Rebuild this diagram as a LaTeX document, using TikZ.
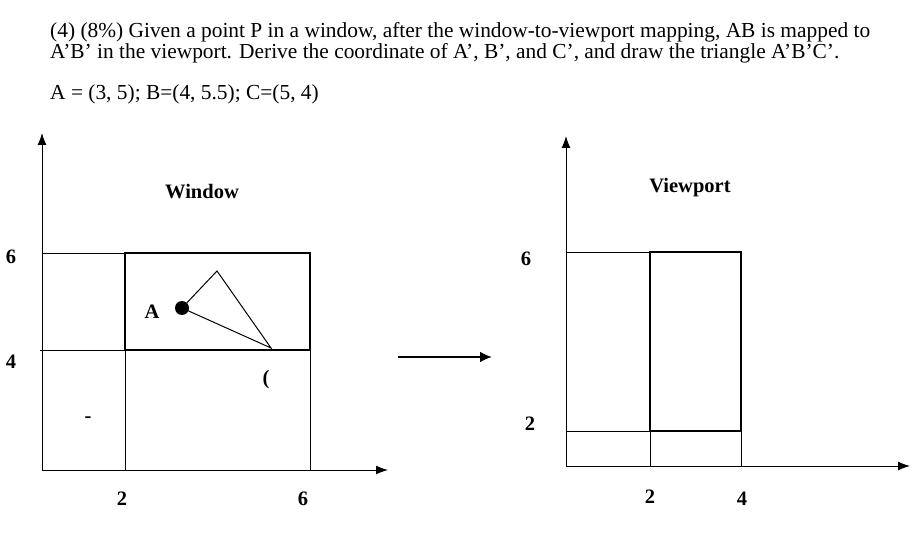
\documentclass[tikz,border=0pt]{standalone}
\usepackage{fontspec}
\setmainfont{Liberation Serif}
\usetikzlibrary{arrows.meta}
\begin{document}
\begin{tikzpicture}[x=1pt,y=-1pt,
  thin line/.style={line width=0.9pt},
  thick line/.style={line width=2.4pt},
  ax/.style={line width=1pt,-{Latex[length=12pt,width=9pt]}},
  lbl/.style={font=\fontsize{20.5}{24}\selectfont\bfseries,inner sep=0pt},
  txt/.style={font=\fontsize{21.4}{25}\selectfont,inner sep=0pt,anchor=west}]
\useasboundingbox (0,0) rectangle (915,534);
\node[txt] (t1) at (50,32) {(4) (8\%) Given a point P in a window, after the window-to-viewport mapping, AB is mapped to};
\node[txt] (t2) at (50,53) {A’B’ in the viewport. Derive the coordinate of A’, B’, and C’, and draw the triangle A’B’C’.};
\node[txt] (t3) at (50,94) {A = (3, 5); B=(4, 5.5); C=(5, 4)};
% left
\coordinate (lo) at (42,470);
\coordinate (ly) at (42,133);
\coordinate (lx) at (388,470);
\draw[ax] (lo) -- (ly);
\draw[ax] (lo) -- (lx);
\draw[thin line] (42,253) -- (125,253);
\draw[thin line] (40,350) -- (125,350);
\draw[thin line] (125,470) -- (125,253);
\draw[thin line] (310,350) -- (310,470);
\draw[thick line] (125,253) rectangle (310,350);
\coordinate (pa) at (182,308);
\coordinate (pb) at (217,271);
\coordinate (pc) at (271,348);
\draw[line width=1pt] (pa) -- (pb) -- (pc) -- cycle;
\fill (pa) circle (7);
\node[lbl] (la) at (152,312) {A};
\node[lbl] (lc) at (266,380) {(};
\node[lbl] (ld) at (88,420) {-};
\node[lbl] (l6) at (11,257) {6};
\node[lbl] (l4) at (11,362) {4};
\node[lbl] (l2) at (122,499) {2};
\node[lbl] (l6b) at (303,499) {6};
\node[lbl] (win) at (202,192) {Window};
% arrow
\coordinate (m1) at (398,357);
\coordinate (m2) at (492,357);
\draw[line width=2.5pt,-{Latex[length=12pt,width=11pt]}] (m1) -- (m2);
% right
\coordinate (ro) at (566,466);
\coordinate (ry) at (566,136);
\coordinate (rx) at (910,466);
\draw[ax] (ro) -- (ry);
\draw[ax] (ro) -- (rx);
\draw[thin line] (566,252) -- (650,252);
\draw[thin line] (566,431) -- (650,431);
\draw[thin line] (650,431) -- (650,466);
\draw[thin line] (741,431) -- (741,466);
\draw[thick line] (650,252) rectangle (741,431);
\node[lbl] (r6) at (526,259) {6};
\node[lbl] (r2) at (530,424) {2};
\node[lbl] (r2b) at (650,497) {2};
\node[lbl] (r4) at (742,499) {4};
\node[lbl] (vp) at (690,188) {Viewport};
\end{tikzpicture}
\end{document}
